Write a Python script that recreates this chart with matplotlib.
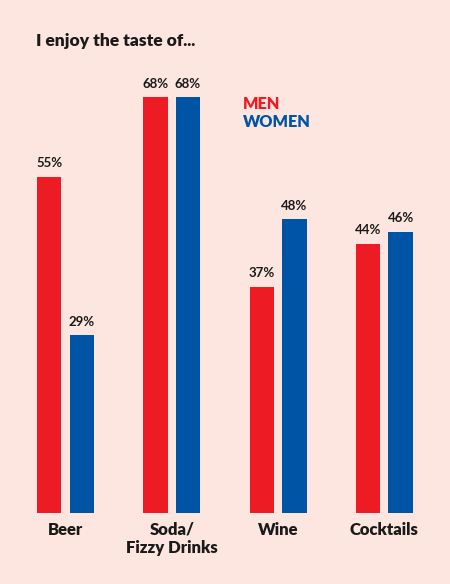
import matplotlib
matplotlib.use("Agg")
import matplotlib.pyplot as plt
import numpy as np

# data
drinks = ["Beer", "Soda/\nFizzy Drinks", "Wine", "Cocktails"]
men = [55, 68, 37, 44]
women = [29, 68, 48, 46]

RED = "#ED1C24"
BLUE = "#0054A6"
BG = "#FDE6DF"
INK = "#1a1a1a"

plt.rcParams['font.family'] = ['Lato', 'DejaVu Sans']

fig = plt.figure(figsize=(4.5, 5.84), dpi=100, facecolor=BG)
ax = fig.add_axes([0, 0.1221, 1, 0.8779])
ax.set_facecolor(BG)

x = np.arange(len(drinks))
w = 0.23
off = 0.153
b1 = ax.bar(x - off, men, w, color=RED)
b2 = ax.bar(x + off, women, w, color=BLUE)

for bars, vals in [(b1, men), (b2, women)]:
    for r, v in zip(bars, vals):
        ax.text(r.get_x() + r.get_width() / 2, v + 2.2, f"{v}%",
                ha="center", va="center", fontsize=9.5, fontweight="bold", color=INK)

for xi, name in zip(x, drinks):
    ax.text(xi, -1.5, name, ha="center", va="top", fontsize=12,
            fontweight="heavy", color=INK, linespacing=1.2, clip_on=False)

ax.set_xlim(-0.616, 3.617)
ax.set_ylim(0, 83.9)
ax.axis("off")

fig.text(36 / 450, 1 - 41 / 584, "I enjoy the taste of...", fontsize=12.5,
         fontweight="heavy", color=INK, va="center", ha="left")
fig.text(243 / 450, 1 - 104 / 584, "MEN", fontsize=11.7, fontweight="heavy",
         color=RED, va="center", ha="left")
fig.text(243 / 450, 1 - 122 / 584, "WOMEN", fontsize=11.7, fontweight="heavy",
         color=BLUE, va="center", ha="left")

fig.savefig("out.png", dpi=100, facecolor=BG)
